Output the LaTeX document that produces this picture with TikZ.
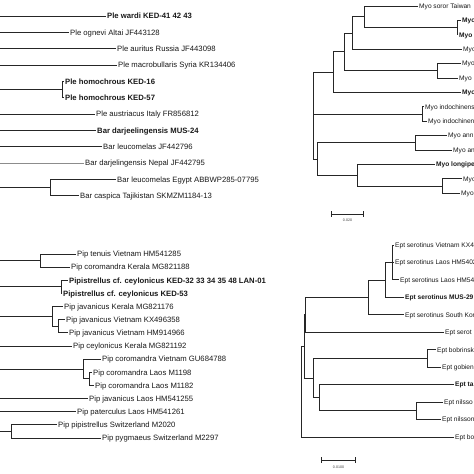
\documentclass[tikz,border=0pt]{standalone}
\usepackage{fontspec}
\setmainfont{Liberation Sans}
\usepackage{tikz}
\usetikzlibrary{positioning}

\begin{document}
\begin{tikzpicture}[x=1pt,y=-1pt,
    branch/.style={line width=0.9pt,draw=black!85},
    faint/.style={line width=0.9pt,draw=black!45},
    taxon/.style={anchor=west,inner xsep=1.5pt,inner ysep=0pt,text height=5.5pt,text depth=0pt,text=black!90,font=\fontsize{7.7}{9}\selectfont},
    taxonb/.style={taxon,font=\fontsize{7.7}{9}\selectfont\bfseries},
    staxon/.style={anchor=west,inner xsep=1.5pt,inner ysep=0pt,text height=4.7pt,text depth=0pt,text=black!90,font=\fontsize{6.6}{8}\selectfont},
    staxonb/.style={staxon,font=\fontsize{6.6}{8}\selectfont\bfseries},
    scalelabel/.style={inner sep=0pt,text=black!75,font=\fontsize{3.6}{4}\selectfont}]

    \fill[white] (0,0) rectangle (474,474);
    \useasboundingbox (0,0) rectangle (474,474);

    % Ple and Bar taxa
    \node[taxonb] (ple1) at (105.5,16.0) {Ple wardi KED-41 42 43};
    \node[taxon] (ple2) at (68.5,32.35) {Ple ognevi Altai JF443128};
    \node[taxon] (ple3) at (115.5,48.7) {Ple auritus Russia JF443098};
    \node[taxon] (ple4) at (116.5,65.05) {Ple macrobullaris Syria KR134406};
    \node[taxonb] (ple5) at (63.5,81.4) {Ple homochrous KED-16};
    \node[taxonb] (ple6) at (63.5,97.75) {Ple homochrous KED-57};
    \node[taxon] (ple7) at (94.5,114.1) {Ple austriacus Italy FR856812};
    \node[taxonb] (bar1) at (95.5,130.45) {Bar darjeelingensis MUS-24};
    \node[taxon] (bar2) at (101.5,146.8) {Bar leucomelas JF442796};
    \node[taxon] (bar3) at (83.5,163.15) {Bar darjelingensis Nepal JF442795};
    \node[taxon] (bar4) at (115.5,179.5) {Bar leucomelas Egypt ABBWP285-07795};
    \node[taxon] (bar5) at (78.5,195.85) {Bar caspica Tajikistan SKMZM1184-13};

    % Ple and Bar branches
    \coordinate (pleroot) at (-20,100);
    \coordinate (homo) at (62,89.6);
    \coordinate (barpair) at (50,187.7);
    \draw[branch] (pleroot) |- (ple1.west);
    \draw[branch] (pleroot) |- (ple2.west);
    \draw[branch] (pleroot) |- (ple3.west);
    \draw[branch] (pleroot) |- (ple4.west);
    \draw[branch] (pleroot) |- (homo);
    \draw[branch] (homo) |- (ple5.west);
    \draw[branch] (homo) |- (ple6.west);
    \draw[branch] (pleroot) |- (ple7.west);
    \draw[branch] (pleroot) |- (bar1.west);
    \draw[branch] (pleroot) |- (bar2.west);
    \draw[faint] (pleroot) |- (bar3.west);
    \draw[branch] (pleroot) |- (barpair);
    \draw[branch] (barpair) |- (bar4.west);
    \draw[branch] (barpair) |- (bar5.west);

    % Pip taxa
    \node[taxon] (pip1) at (75.5,254.0) {Pip tenuis Vietnam HM541285};
    \node[taxon] (pip2) at (69.5,267.1) {Pip coromandra Kerala MG821188};
    \node[taxonb] (pip3) at (67.5,280.3) {Pipistrellus cf. ceylonicus KED-32 33 34 35 48 LAN-01};
    \node[taxonb] (pip4) at (61.5,293.4) {Pipistrellus cf. ceylonicus KED-53};
    \node[taxon] (pip5) at (62.5,306.6) {Pip javanicus Kerala MG821176};
    \node[taxon] (pip6) at (64.5,319.7) {Pip javanicus Vietnam KX496358};
    \node[taxon] (pip7) at (67.5,332.8) {Pip javanicus Vietnam HM914966};
    \node[taxon] (pip8) at (71.5,346.0) {Pip ceylonicus Kerala MG821192};
    \node[taxon] (pip9) at (100.5,359.1) {Pip coromandra Vietnam GU684788};
    \node[taxon] (pip10) at (91.5,372.3) {Pip coromandra Laos M1198};
    \node[taxon] (pip11) at (93.5,385.4) {Pip coromandra Laos M1182};
    \node[taxon] (pip12) at (87.5,398.5) {Pip javanicus Laos HM541255};
    \node[taxon] (pip13) at (75.5,411.7) {Pip paterculus Laos HM541261};
    \node[taxon] (pip14) at (56.5,424.8) {Pip pipistrellus Switzerland M2020};
    \node[taxon] (pip15) at (100.5,438.0) {Pip pygmaeus Switzerland M2297};

    % Pip branches
    \coordinate (piproot) at (-20,350);
    \coordinate (tenuis) at (40,260.55);
    \coordinate (ceylon) at (61,286.85);
    \coordinate (java) at (52,316.4);
    \coordinate (javavn) at (58,326.25);
    \coordinate (coro) at (83,369.0);
    \coordinate (corolaos) at (89,378.85);
    \coordinate (swiss) at (11,431.4);
    \draw[branch] (piproot) |- (tenuis);
    \draw[branch] (tenuis) |- (pip1.west);
    \draw[branch] (tenuis) |- (pip2.west);
    \draw[branch] (piproot) |- (ceylon);
    \draw[branch] (ceylon) |- (pip3.west);
    \draw[branch] (ceylon) |- (pip4.west);
    \draw[branch] (piproot) |- (java);
    \draw[branch] (java) |- (pip5.west);
    \draw[branch] (java) |- (javavn);
    \draw[branch] (javavn) |- (pip6.west);
    \draw[branch] (javavn) |- (pip7.west);
    \draw[branch] (piproot) |- (pip8.west);
    \draw[branch] (piproot) |- (coro);
    \draw[branch] (coro) |- (pip9.west);
    \draw[branch] (coro) |- (corolaos);
    \draw[branch] (corolaos) |- (pip10.west);
    \draw[branch] (corolaos) |- (pip11.west);
    \draw[branch] (piproot) |- (pip12.west);
    \draw[branch] (piproot) |- (pip13.west);
    \draw[branch] (piproot) |- (swiss);
    \draw[branch] (swiss) |- (pip14.west);
    \draw[branch] (swiss) |- (pip15.west);

    % Myo taxa
    \node[staxon] (myo1) at (417.5,6.0) {Myo soror Taiwan};
    \node[staxonb] (myo2) at (460.5,20.4) {Myo};
    \node[staxonb] (myo3) at (457.5,34.8) {Myo};
    \node[staxon] (myo4) at (461.5,49.2) {Myo};
    \node[staxon] (myo5) at (460.5,63.6) {Myo};
    \node[staxon] (myo6) at (457.5,78.0) {Myo};
    \node[staxonb] (myo7) at (460.5,92.4) {Myo};
    \node[staxon] (myo8) at (423.5,106.8) {Myo indochinensi};
    \node[staxon] (myo9) at (426.5,121.2) {Myo indochinens};
    \node[staxon] (myo10) at (446.5,135.6) {Myo ann};
    \node[staxon] (myo11) at (451.5,150.0) {Myo an};
    \node[staxonb] (myo12) at (434.5,164.4) {Myo longipe};
    \node[staxon] (myo13) at (461.5,178.8) {Myo};
    \node[staxon] (myo14) at (459.5,193.2) {Myo};

    % Myo branches
    \coordinate (m0) at (313,115);
    \coordinate (m1) at (457,27.6);
    \coordinate (m2) at (364,16.8);
    \coordinate (m3) at (352,33.0);
    \coordinate (m4) at (437,70.8);
    \coordinate (m5) at (344,51.9);
    \coordinate (m6) at (333,72.15);
    \coordinate (m7) at (422,114.0);
    \coordinate (m8) at (415,142.8);
    \coordinate (m9) at (442,186.0);
    \coordinate (m10) at (357,175.2);
    \coordinate (m11) at (317,159.0);
    \draw[branch] (m0) |- (m6);
    \draw[branch] (m0) |- (m7);
    \draw[branch] (m0) |- (m11);
    \draw[branch] (m6) |- (m5);
    \draw[branch] (m6) |- (myo7.west);
    \draw[branch] (m5) |- (m3);
    \draw[branch] (m5) |- (m4);
    \draw[branch] (m3) |- (m2);
    \draw[branch] (m3) |- (myo4.west);
    \draw[branch] (m2) |- (myo1.west);
    \draw[branch] (m2) |- (m1);
    \draw[branch] (m1) |- (myo2.west);
    \draw[branch] (m1) |- (myo3.west);
    \draw[branch] (m4) |- (myo5.west);
    \draw[branch] (m4) |- (myo6.west);
    \draw[branch] (m7) |- (myo8.west);
    \draw[branch] (m7) |- (myo9.west);
    \draw[branch] (m11) |- (m8);
    \draw[branch] (m11) |- (m10);
    \draw[branch] (m8) |- (myo10.west);
    \draw[branch] (m8) |- (myo11.west);
    \draw[branch] (m10) |- (myo12.west);
    \draw[branch] (m10) |- (m9);
    \draw[branch] (m9) |- (myo13.west);
    \draw[branch] (m9) |- (myo14.west);

    % Myo scale bar
    \coordinate (myobarl) at (331,214);
    \coordinate (myobarr) at (364,214);
    \draw[branch,line width=0.6pt,|-|] (myobarl) -- (myobarr);
    \node[scalelabel] (myoscale) at (347.5,220.5) {0.020};

    % Ept taxa
    \node[staxon] (ept1) at (393.5,245.0) {Ept serotinus Vietnam KX45};
    \node[staxon] (ept2) at (393.5,262.5) {Ept serotinus Laos HM5402};
    \node[staxon] (ept3) at (398.5,279.9) {Ept serotinus Laos HM540};
    \node[staxonb] (ept4) at (403.5,297.4) {Ept serotinus MUS-29};
    \node[staxon] (ept5) at (403.5,314.8) {Ept serotinus South Kor};
    \node[staxon] (ept6) at (443.5,332.3) {Ept serot};
    \node[staxon] (ept7) at (435.5,349.7) {Ept bobrinsk};
    \node[staxon] (ept8) at (440.5,367.2) {Ept gobien};
    \node[staxonb] (ept9) at (453.5,384.6) {Ept ta};
    \node[staxon] (ept10) at (442.5,402.1) {Ept nilsso};
    \node[staxon] (ept11) at (440.5,419.5) {Ept nilsson};
    \node[staxon] (ept12) at (453.5,437.0) {Ept bo};

    % Ept branches
    \coordinate (e1) at (392,262.5);
    \coordinate (e2) at (385,280.0);
    \coordinate (e3) at (368,297.4);
    \coordinate (e4) at (305,314.8);
    \coordinate (e5) at (427,358.5);
    \coordinate (e6) at (416,410.8);
    \coordinate (e7) at (319,397.7);
    \coordinate (e8) at (313,378.1);
    \coordinate (e9) at (304,346.5);
    \coordinate (e10) at (301,391.7);
    \draw[branch] (e10) |- (e9);
    \draw[branch] (e10) |- (ept12.west);
    \draw[branch] (e9) |- (e4);
    \draw[branch] (e9) |- (e8);
    \draw[branch] (e4) |- (e3);
    \draw[branch] (e4) |- (ept6.west);
    \draw[branch] (e3) |- (e2);
    \draw[branch] (e3) |- (ept5.west);
    \draw[branch] (e2) |- (e1);
    \draw[branch] (e2) |- (ept4.west);
    \draw[branch] (e1) |- (ept1.west);
    \draw[branch] (e1) |- (ept2.west);
    \draw[branch] (e1) |- (ept3.west);
    \draw[branch] (e8) |- (e5);
    \draw[branch] (e8) |- (e7);
    \draw[branch] (e5) |- (ept7.west);
    \draw[branch] (e5) |- (ept8.west);
    \draw[branch] (e7) |- (ept9.west);
    \draw[branch] (e7) |- (e6);
    \draw[branch] (e6) |- (ept10.west);
    \draw[branch] (e6) |- (ept11.west);

    % Ept scale bar
    \coordinate (eptbarl) at (321,460);
    \coordinate (eptbarr) at (356,460);
    \draw[branch,line width=0.6pt,|-|] (eptbarl) -- (eptbarr);
    \node[scalelabel] (eptscale) at (338.5,467) {0.0100};

\end{tikzpicture}
\end{document}
